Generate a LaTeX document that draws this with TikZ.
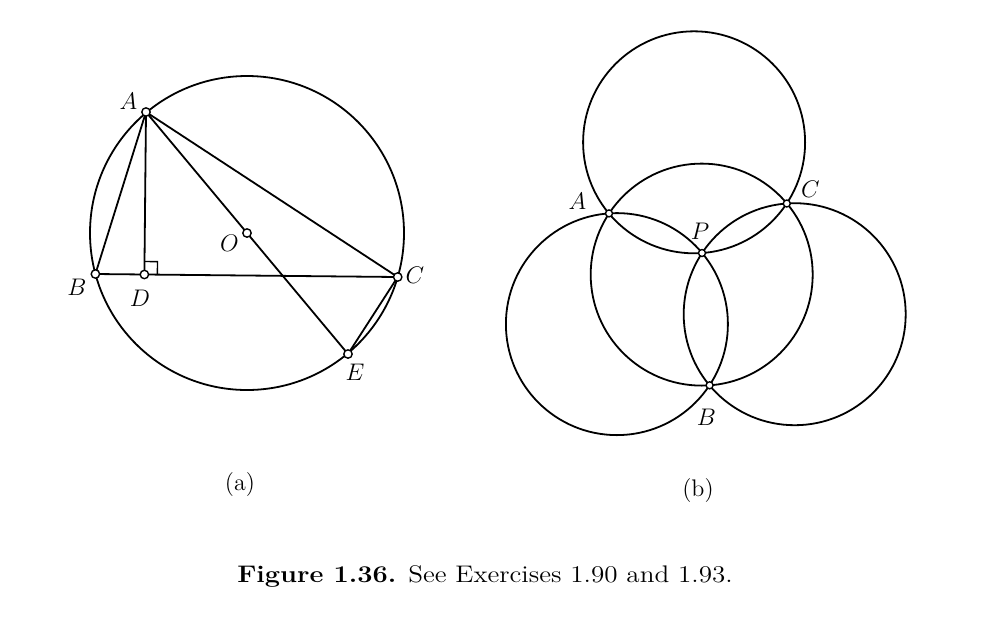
\documentclass[tikz,border=0pt]{standalone}
\usepackage{graphicx}
\usetikzlibrary{calc}
\begin{document}
\begin{tikzpicture}[x=0.5pt,y=-0.5pt,line width=0.9pt,
  pta/.style={circle,draw,fill=white,inner sep=0pt,minimum size=4.2pt,line width=0.7pt},
  ptb/.style={circle,draw,fill=white,inner sep=0pt,minimum size=3.5pt,line width=0.7pt},
  lbl/.style={inner sep=0pt,font=\fontsize{11.5}{14}\selectfont},
  sub/.style={inner sep=0pt,font=\fontsize{12}{14}\selectfont}]
\useasboundingbox (0,0) rectangle (981,634);
% ---------- (a) ----------
\coordinate (aO) at (247,233);
\coordinate (aA) at (146,112);
\coordinate (aB) at (95.4,274);
\coordinate (aC) at (397.7,277);
\coordinate (aE) at ($2*(aO)-(aA)$);
\coordinate (aD) at ($(aB)!(aA)!(aC)$);
\coordinate (aD1) at ($(aD)!6.5pt!(aC)$);
\coordinate (aD2) at ($(aD)!6.5pt!(aA)$);
\coordinate (aD3) at ($(aD1)+(aD2)-(aD)$);
\draw (aO) circle (157);
\draw (aA) -- (aB) -- (aC) -- (aA);
\draw (aA) -- (aD);
\draw (aA) -- (aE) -- (aC);
\draw[line width=0.7pt] (aD1) -- (aD3) -- (aD2);
\foreach \p in {aA,aB,aC,aD,aE,aO} \node[pta] at (\p) {};
\node[lbl] (laA) at (128.5,101.5) {$A$};
\node[lbl] (laB) at (77,287) {$B$};
\node[lbl] (laD) at (140,298.5) {$D$};
\node[lbl] (laO) at (229.5,243.5) {$O$};
\node[lbl] (laC) at (415,275.5) {$C$};
\node[lbl] (laE) at (355,372.5) {$E$};
\node[sub] (capa) at (240,485) {(a)};
% ---------- (b) ----------
\coordinate (bP) at (702,253);
\coordinate (bT) at (694.1,142.3);
\coordinate (bL) at (616.9,324.1);
\coordinate (bR) at (794.7,314.2);
\coordinate (bA) at ($(bT)+(bL)-(bP)$);
\coordinate (bC) at ($(bT)+(bR)-(bP)$);
\coordinate (bB) at ($(bL)+(bR)-(bP)$);
\coordinate (bM) at ($(bT)+(bL)+(bR)-2*(bP)$);
\foreach \c in {bT,bL,bR,bM} \draw (\c) circle (111);
\foreach \p in {bA,bB,bC,bP} \node[ptb] at (\p) {};
\node[lbl] (lbA) at (577.5,201.5) {$A$};
\node[lbl] (lbC) at (810.5,189) {$C$};
\node[lbl] (lbP) at (700,231.5) {$P$};
\node[lbl] (lbB) at (706.5,417.5) {$B$};
\node[sub] (capb) at (698,490) {(b)};
% ---------- caption ----------
\node[inner sep=0pt] (cap) at (485,576) {\fontsize{12}{14}\selectfont\scalebox{1.13}[1]{\textbf{Figure 1.36.} See Exercises 1.90 and 1.93.}};
\end{tikzpicture}
\end{document}
